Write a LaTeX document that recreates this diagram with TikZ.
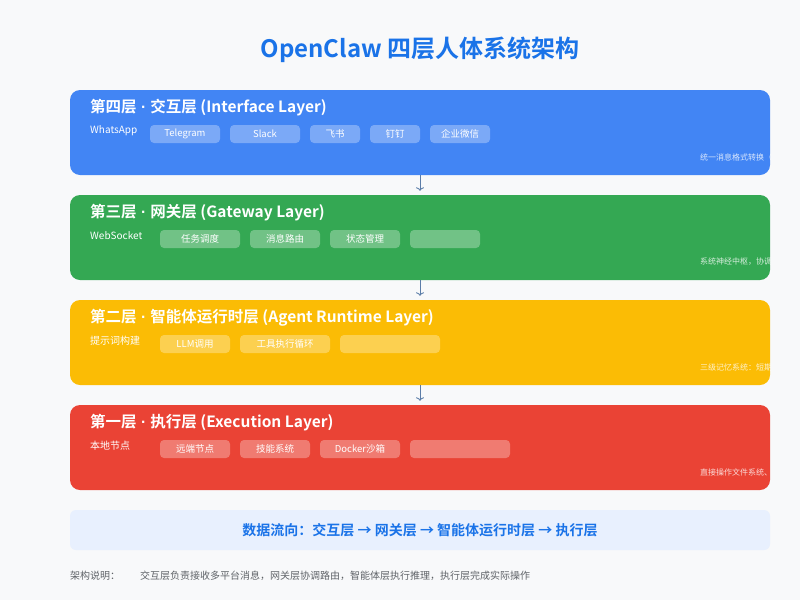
\documentclass[tikz,border=0pt]{standalone}
\usepackage{fontspec}
\setmainfont{Noto Sans CJK SC}[BoldFont={Noto Sans CJK SC Bold}]
\newfontfamily\latinfont{Liberation Sans}
\usetikzlibrary{arrows.meta}
\definecolor{pagebg}{HTML}{F8F9FA}
\definecolor{layerblue}{HTML}{4285F4}
\definecolor{layergreen}{HTML}{34A853}
\definecolor{layeryellow}{HTML}{FBBC05}
\definecolor{layerred}{HTML}{EA4335}
\definecolor{titleblue}{HTML}{1A73E8}
\definecolor{flowbg}{HTML}{E8F0FE}
\definecolor{notegray}{HTML}{5F6368}
\definecolor{arrowgray}{HTML}{5B7DA8}
\newcommand{\middot}{{\latinfont\bfseries\ ·\ }}
\tikzset{
  layerbox/.style={rounded corners=10pt, minimum width=700pt, minimum height=85pt, inner sep=0pt},
  layertitle/.style={anchor=west, inner sep=0pt, text=white, font=\bfseries\fontsize{15.5}{18}\selectfont},
  sublabel/.style={anchor=west, inner sep=0pt, text=white, font=\fontsize{10}{12}\selectfont},
  chip/.style={fill=white, fill opacity=0.3, text opacity=1, text=white, rounded corners=4pt,
    minimum height=18pt, inner sep=0pt, font=\fontsize{9.5}{11}\selectfont},
  desc/.style={anchor=west, inner sep=0pt, text=white, text opacity=0.8, font=\fontsize{8}{10}\selectfont},
  flowarrow/.style={-{To[length=3.5pt,width=8pt]}, arrowgray, line width=0.9pt, shorten >=4pt},
  note/.style={anchor=west, inner sep=0pt, text=notegray, font=\fontsize{10}{12}\selectfont}
}
\begin{document}
\begin{tikzpicture}[x=1pt,y=-1pt]
\fill[pagebg] (0,0) rectangle (800,600);
\useasboundingbox (0,0) rectangle (800,600);
\node[text=titleblue, font=\bfseries\fontsize{24}{29}\selectfont] (title) at (420,50) {OpenClaw 四层人体系统架构};
% four layers
\node[layerbox, fill=layerblue] (L4) at (420,132.5) {};
\node[layerbox, fill=layergreen] (L3) at (420,237.5) {};
\node[layerbox, fill=layeryellow] (L2) at (420,342.5) {};
\node[layerbox, fill=layerred] (L1) at (420,447.5) {};
\foreach \lay/\top/\txt in {L4/90/统一消息格式转换（跨平台适配）, L3/195/系统神经中枢，协调所有组件,
  L2/300/三级记忆系统：短期、长期记忆, L1/405/直接操作文件系统、网络和设备} {
  \begin{scope}
    \clip (70,\top) rectangle (770,\top+85);
    \node[desc] (\lay d) at (700,\top+67) {\txt};
  \end{scope}
}
% layer 4
\node[layertitle] (L4t) at (90,108) {第四层\middot 交互层 (Interface Layer)};
\node[sublabel] (L4s) at (90,131) {WhatsApp};
\node[chip, minimum width=70pt] (telegram) at (185,134) {Telegram};
\node[chip, minimum width=70pt] (slack) at (265,134) {Slack};
\node[chip, minimum width=50pt] (feishu) at (335,134) {飞书};
\node[chip, minimum width=50pt] (dingtalk) at (395,134) {钉钉};
\node[chip, minimum width=60pt] (wecom) at (460,134) {企业微信};
% layer 3
\node[layertitle] (L3t) at (90,213) {第三层\middot 网关层 (Gateway Layer)};
\node[sublabel] (L3s) at (90,236) {WebSocket};
\node[chip, minimum width=80pt] (sched) at (200,239) {任务调度};
\node[chip, minimum width=70pt] (route) at (285,239) {消息路由};
\node[chip, minimum width=70pt] (state) at (365,239) {状态管理};
\node[chip, minimum width=70pt] (gwmore) at (445,239) {};
% layer 2
\node[layertitle] (L2t) at (90,318) {第二层\middot 智能体运行时层 (Agent Runtime Layer)};
\node[sublabel] (L2s) at (90,341) {提示词构建};
\node[chip, minimum width=70pt] (llm) at (195,344) {LLM调用};
\node[chip, minimum width=90pt] (toolloop) at (285,344) {工具执行循环};
\node[chip, minimum width=100pt] (agmore) at (390,344) {};
% layer 1
\node[layertitle] (L1t) at (90,423) {第一层\middot 执行层 (Execution Layer)};
\node[sublabel] (L1s) at (90,446) {本地节点};
\node[chip, minimum width=70pt] (remote) at (195,449) {远端节点};
\node[chip, minimum width=70pt] (skills) at (275,449) {技能系统};
\node[chip, minimum width=80pt] (docker) at (360,449) {Docker沙箱};
\node[chip, minimum width=100pt] (exmore) at (460,449) {};
% arrows
\draw[flowarrow] (L4) -- (L3);
\draw[flowarrow] (L3) -- (L2);
\draw[flowarrow] (L2) -- (L1);
% flow and note
\node[fill=flowbg, rounded corners=6pt, minimum width=700pt, minimum height=40pt, text=titleblue,
  font=\bfseries\fontsize{14}{17}\selectfont] (flow) at (420,530)
  {数据流向：交互层 → 网关层 → 智能体运行时层 → 执行层};
\node[note] (notelabel) at (70,576) {架构说明：};
\node[note] (notetext) at (140,576) {交互层负责接收多平台消息，网关层协调路由，智能体层执行推理，执行层完成实际操作};
\end{tikzpicture}
\end{document}
